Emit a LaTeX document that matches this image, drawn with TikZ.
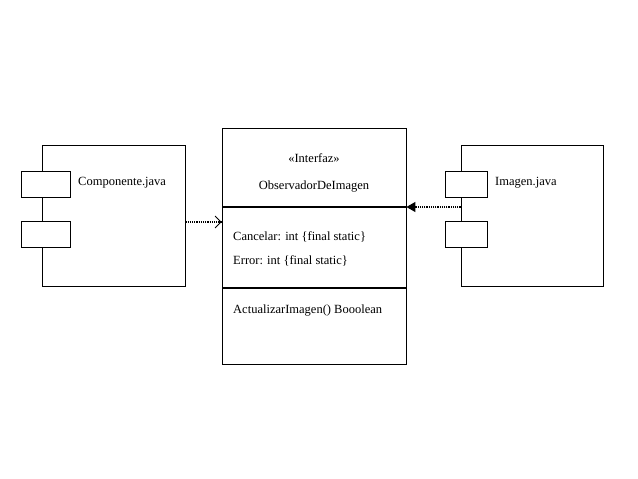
\documentclass[tikz,border=0pt]{standalone}
\usepackage{fontspec}
\setmainfont{Liberation Serif}
\usetikzlibrary{arrows.meta}
\begin{document}
\begin{tikzpicture}[x=1pt,y=-1pt,
  box/.style={draw,line width=0.8pt,fill=white},
  txt/.style={font=\fontsize{12.5}{14}\selectfont,inner sep=0pt},
  dep/.style={densely dotted,line width=1.2pt}]
\useasboundingbox (0,0) rectangle (638,479);
% left component
\node[box,minimum width=143pt,minimum height=141pt,inner sep=0pt] (lc) at (113.5,215.5) {};
\node[box,minimum width=49pt,minimum height=26pt,inner sep=0pt] (lp1) at (45.5,184) {};
\node[box,minimum width=49pt,minimum height=26pt,inner sep=0pt] (lp2) at (45.5,234) {};
\node[txt,anchor=west] (lt) at (78,183) {Componente.java};
% right component
\node[box,minimum width=142pt,minimum height=141pt,inner sep=0pt] (rc) at (532,215.5) {};
\node[box,minimum width=42pt,minimum height=26pt,inner sep=0pt] (rp1) at (466,184) {};
\node[box,minimum width=42pt,minimum height=26pt,inner sep=0pt] (rp2) at (466,234) {};
\node[txt,anchor=west] (rt) at (495,183) {Imagen.java};
% class
\node[box,minimum width=184pt,minimum height=236pt,inner sep=0pt] (cl) at (314,246) {};
\draw[line width=1.6pt] (222,207) -- (406,207);
\draw[line width=1.2pt] (222,288) -- (406,288);
\node[txt] (st) at (314,158) {«Interfaz»};
\node[txt] (nm) at (314,187) {ObservadorDeImagen};
\node[txt,anchor=west] (a1) at (233,237) {Cancelar: int \{final static\}};
\node[txt,anchor=west] (a2) at (233,261) {Error: int \{final static\}};
\node[txt,anchor=west] (m1) at (233,311) {ActualizarImagen() Booolean};
% connectors
\coordinate (l1) at (lc.east |- 0,222);
\coordinate (l2) at (cl.west |- 0,222);
\draw[dep,-{Straight Barb[length=6pt,width=12pt,line width=0.8pt]}] (l1) -- (l2);
\coordinate (r1) at (rc.west |- 0,207);
\coordinate (r2) at (cl.east |- 0,207);
\draw[dep,-{Triangle[length=9pt,width=10pt]}] (r1) -- (r2);
\end{tikzpicture}
\end{document}
